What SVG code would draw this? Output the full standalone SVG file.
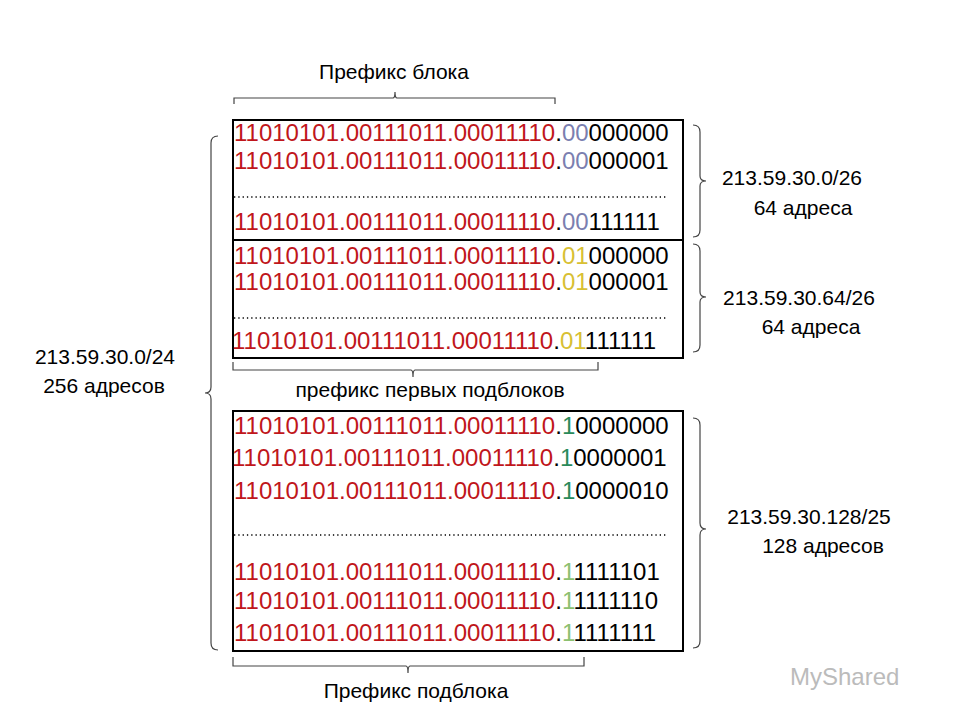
<svg xmlns="http://www.w3.org/2000/svg" width="960" height="720" viewBox="0 0 960 720">
<style>
.b{font-family:"Liberation Sans",Arial,sans-serif;font-size:24px;fill:#000}
.r{fill:#c0161b}.bl{fill:#7b7fb0}.y{fill:#d8c033}.g{fill:#2a8a5a}.lg{fill:#8cc070}
.l{font-family:"Liberation Sans",Arial,sans-serif;font-size:21px;fill:#000;text-anchor:middle}
.box{fill:none;stroke:#000;stroke-width:2}
.br{fill:none;stroke:#444;stroke-width:1.2}
.dot{stroke:#000;stroke-width:1.3;stroke-dasharray:1.3 3}
</style>
<rect width="960" height="720" fill="#fff"/>
<g id="block1">
<rect class="box" x="233" y="120" width="450" height="120"/>
<text class="b" x="234" y="141"><tspan class="r">11010101.00111011.00011110</tspan>.<tspan class="bl">00</tspan>000000</text>
<text class="b" x="234" y="169"><tspan class="r">11010101.00111011.00011110</tspan>.<tspan class="bl">00</tspan>000001</text>
<line class="dot" x1="234" y1="197" x2="668" y2="197"/>
<text class="b" x="234" y="230"><tspan class="r">11010101.00111011.00011110</tspan>.<tspan class="bl">00</tspan>111111</text>
</g>
<g id="block2">
<rect class="box" x="233" y="240" width="450" height="118"/>
<text class="b" x="234" y="264"><tspan class="r">11010101.00111011.00011110</tspan>.<tspan class="y">01</tspan>000000</text>
<text class="b" x="234" y="290"><tspan class="r">11010101.00111011.00011110</tspan>.<tspan class="y">01</tspan>000001</text>
<line class="dot" x1="234" y1="318" x2="668" y2="318"/>
<text class="b" x="232" y="349"><tspan class="r">11010101.00111011.00011110</tspan>.<tspan class="y">01</tspan>111111</text>
</g>
<g id="block3">
<rect class="box" x="233" y="411" width="450" height="240"/>
<text class="b" x="234" y="434"><tspan class="r">11010101.00111011.00011110</tspan>.<tspan class="g">1</tspan>0000000</text>
<text class="b" x="232" y="466"><tspan class="r">11010101.00111011.00011110</tspan>.<tspan class="g">1</tspan>0000001</text>
<text class="b" x="234" y="499"><tspan class="r">11010101.00111011.00011110</tspan>.<tspan class="g">1</tspan>0000010</text>
<line class="dot" x1="234" y1="535" x2="668" y2="535"/>
<text class="b" x="234" y="580"><tspan class="r">11010101.00111011.00011110</tspan>.<tspan class="lg">1</tspan>1111101</text>
<text class="b" x="234" y="609"><tspan class="r">11010101.00111011.00011110</tspan>.<tspan class="lg">1</tspan>1111110</text>
<text class="b" x="234" y="641"><tspan class="r">11010101.00111011.00011110</tspan>.<tspan class="lg">1</tspan>1111111</text>
</g>
<g id="connectors">
<path class="br" d="M234 104 V98 H393 Q395 98 395 92 Q395 98 397 98 H555 V104"/>
<path class="br" d="M693 125 Q700 125 700 132 V176 Q700 181 706 181 Q700 181 700 186 V230 Q700 237 693 237"/>
<path class="br" d="M693 244 Q700 244 700 251 V292 Q700 297 706 297 Q700 297 700 302 V345 Q700 352 693 352"/>
<path class="br" d="M693 418 Q700 418 700 425 V523 Q700 529 706 529 Q700 529 700 535 V641 Q700 648 693 648"/>
<path class="br" d="M218 136 Q211 136 211 143 V387 Q211 393 205 393 Q211 393 211 399 V643 Q211 650 218 650"/>
<path class="br" d="M233 362 V370 H411 Q413 370 413 377 Q413 370 415 370 H598 V362"/>
<path class="br" d="M233 657 V666 H406 Q408 666 408 673 Q408 666 410 666 H584 V657"/>
</g>
<g id="labels">
<text class="l" x="394" y="79">Префикс блока</text>
<text class="l" x="792" y="185">213.59.30.0/26</text>
<text class="l" x="803" y="215">64 адреса</text>
<text class="l" x="799" y="305">213.59.30.64/26</text>
<text class="l" x="811" y="334">64 адреса</text>
<text class="l" x="430" y="397">префикс первых подблоков</text>
<text class="l" x="105" y="364">213.59.30.0/24</text>
<text class="l" x="104" y="393">256 адресов</text>
<text class="l" x="809" y="524">213.59.30.128/25</text>
<text class="l" x="823" y="553">128 адресов</text>
<text class="l" x="416" y="698">Префикс подблока</text>
</g>
<text x="790" y="685" font-family="Liberation Sans,Arial,sans-serif" font-size="24" fill="#bbb">MyShared</text>
</svg>
